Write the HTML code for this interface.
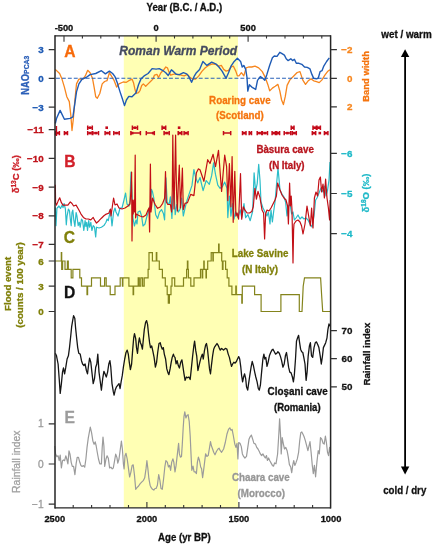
<!DOCTYPE html><html><head><meta charset="utf-8"><style>html,body{margin:0;padding:0;background:#fff;width:436px;height:550px;overflow:hidden}svg{display:block}text{font-family:"Liberation Sans",Arial,sans-serif;font-weight:bold;stroke-width:0.3px}</style></head><body>
<svg width="436" height="550" viewBox="0 0 436 550">
<rect x="123.8" y="35.8" width="114.2" height="472.09999999999997" fill="#FFFFB4"/>
<polyline points="55.3,69.4 59.6,73.5 62.0,79.1 64.4,87.1 66.8,96.7 69.3,101.6 70.9,116.0 72.0,130.5 73.3,119.2 74.9,100.0 76.5,83.9 78.9,79.1 82.9,79.1 85.3,75.9 87.7,70.3 90.1,72.7 92.5,78.3 94.1,87.1 95.7,96.7 97.3,98.3 99.8,93.5 102.2,83.9 104.6,81.5 107.0,80.7 109.4,72.7 111.8,76.7 114.2,80.7 116.6,87.1 119.0,83.9 123.2,82.0 126.4,82.3 128.8,80.7 132.0,79.1 133.6,83.1 134.8,88.7 136.1,93.5 138.5,92.7 140.1,90.3 141.7,85.5 143.3,83.9 145.7,86.3 148.1,83.9 150.5,81.5 152.9,79.1 154.5,75.1 156.9,74.3 158.5,77.5 160.9,72.7 163.3,70.3 165.8,67.0 167.4,67.8 169.0,71.9 170.6,75.1 173.0,74.3 175.4,73.9 177.8,74.6 181.0,75.1 184.2,75.9 187.4,74.3 189.2,76.7 192.4,79.1 195.6,79.1 198.8,75.9 202.1,71.1 205.3,67.8 208.5,65.4 212.5,63.8 216.5,64.6 218.9,66.2 221.3,65.4 223.7,69.4 226.1,71.1 228.5,70.3 231.0,67.0 233.4,66.2 235.8,71.1 237.4,75.9 239.0,75.9 241.4,72.7 243.8,75.9 246.2,67.8 248.6,67.0 251.8,67.0 255.0,66.1 258.7,67.9 262.3,71.6 265.1,77.1 267.8,84.4 269.7,90.9 272.4,88.1 275.2,86.3 277.9,84.4 279.8,90.9 281.6,100.0 283.4,104.6 285.3,96.4 287.1,85.4 289.9,79.9 293.5,76.2 297.2,72.5 300.0,71.6 302.7,79.9 305.5,84.4 308.2,80.8 311.0,78.9 313.7,80.8 316.5,81.7 319.2,82.6 322.0,79.9 324.7,75.3 327.5,71.6 329.9,69.8" fill="none" stroke="#F7861E" stroke-width="1.3" stroke-linejoin="round"/>
<line x1="55.0" y1="78.3" x2="330.6" y2="78.3" stroke="#2A62B8" stroke-width="1.1" stroke-dasharray="3.9,2.05" stroke-dashoffset="-0.95"/>
<polyline points="55.3,123.5 56.5,118.5 60.1,110.4 64.4,119.2 70.1,118.4 72.9,116.8 74.9,103.2 76.5,91.9 78.9,83.9 82.1,79.1 86.1,77.5 90.1,74.6 95.7,73.5 101.4,70.7 105.4,73.9 109.4,71.1 112.6,73.5 115.0,76.7 117.4,83.1 119.8,91.1 122.2,98.3 124.5,105.6 126.4,100.0 128.8,96.4 132.0,96.7 136.1,92.7 138.5,84.7 140.9,79.1 144.1,75.9 148.1,73.5 152.1,68.6 156.1,69.1 159.3,68.6 162.5,70.3 165.8,72.7 168.2,75.5 171.4,69.8 173.8,71.9 176.2,74.3 179.4,74.6 183.4,72.7 186.6,73.9 188.4,75.9 191.6,82.3 194.0,76.7 196.4,72.7 199.6,69.4 202.9,61.4 206.9,65.4 211.7,62.2 215.7,63.8 218.9,67.0 222.1,71.1 226.1,78.3 228.5,72.7 231.0,66.2 234.2,61.4 237.4,58.2 240.6,61.4 242.2,67.0 243.8,65.4 245.7,69.4 247.0,77.5 247.8,91.1 249.4,84.7 251.8,87.1 255.7,89.4 257.5,80.3 260.3,76.6 263.0,78.4 264.8,80.3 266.9,74.4 269.7,65.2 272.4,57.8 274.3,56.0 277.0,56.4 279.8,52.3 281.6,53.3 284.4,55.1 286.2,58.8 288.0,60.6 290.8,58.8 292.6,60.6 294.4,59.3 296.3,63.3 299.0,63.3 301.8,64.3 304.5,67.0 307.3,67.4 310.0,68.9 311.9,74.4 313.7,78.4 316.5,78.9 318.3,78.0 320.1,71.6 322.0,70.7 323.8,66.1 326.6,61.5 329.3,57.8" fill="none" stroke="#1F5BB5" stroke-width="1.4" stroke-linejoin="round"/>
<polyline points="55.3,207.6 56.0,225.6 56.9,208.4 58.9,206.0 60.5,208.4 62.2,205.1 63.0,207.6 64.1,203.5 65.4,209.2 66.3,224.8 67.1,215.8 68.4,209.2 69.5,210.9 70.3,219.0 71.2,225.6 72.0,212.5 72.8,210.1 73.9,220.7 74.9,226.4 76.1,212.5 76.9,215.8 78.2,225.6 79.3,222.3 80.2,227.2 81.5,219.0 82.6,220.7 83.8,230.5 85.1,220.7 85.9,226.4 86.7,222.3 87.5,230.5 88.7,220.7 89.6,227.2 90.8,222.3 91.9,230.5 93.2,225.6 94.5,227.2 95.7,237.0 96.5,227.2 99.0,228.0 101.4,227.2 103.9,225.6 106.0,222.3 107.1,219.0 108.3,220.7 109.6,214.1 110.4,209.2 112.0,226.0 113.6,212.0 115.0,208.0 116.0,212.0 118.0,216.0 120.0,208.0 122.0,208.0 124.0,200.0 125.6,193.0 127.0,204.0 129.0,206.0 130.0,200.0 131.0,172.0 132.0,192.0 133.0,218.0 134.4,226.0 136.0,220.0 137.0,224.0 138.0,212.0 140.0,211.0 141.6,216.0 143.0,226.0 145.0,224.0 147.0,216.0 148.4,212.0 150.0,206.0 150.5,206.0 151.4,189.3 152.5,191.8 153.8,198.2 155.7,214.7 157.6,218.5 159.5,212.2 161.5,209.6 163.4,213.4 164.6,219.8 165.9,177.8 167.2,202.0 169.1,204.5 170.4,196.9 171.9,218.5 172.9,198.2 173.9,189.3 175.2,214.7 176.7,204.5 178.2,212.2 179.9,209.6 181.6,198.2 183.3,216.0 185.0,208.3 186.9,200.7 189.4,193.1 192.0,185.4 193.9,169.5 195.8,177.8 197.7,182.9 200.0,177.5 203.1,190.6 206.2,180.5 209.3,184.4 211.6,175.9 213.6,162.8 215.5,174.4 217.8,185.2 220.1,188.3 222.4,186.7 224.7,182.1 227.0,188.3 227.8,217.6 229.4,196.0 230.9,216.1 232.5,203.7 234.0,219.2 235.5,211.5 237.9,217.6 240.2,209.9 241.7,217.6 244.0,203.7 245.6,217.6 247.9,214.6 250.2,220.7 252.6,211.5 254.1,172.8 255.6,191.4 257.2,183.6 258.7,164.3 260.0,180.5 261.0,202.0 263.0,208.0 265.0,212.0 267.0,216.0 268.4,212.0 270.0,224.0 271.0,210.0 272.4,222.0 273.6,212.0 275.0,202.0 276.4,186.0 278.0,168.0 280.0,190.0 282.0,194.0 284.0,197.0 285.6,202.0 287.0,216.0 288.4,206.0 290.0,204.0 291.6,214.0 293.0,212.0 294.4,220.0 296.0,218.0 298.0,215.0 300.0,219.0 302.0,217.0 304.0,219.0 306.0,218.0 308.0,220.0 310.0,224.0 312.0,227.0 314.0,216.0 315.6,200.0 317.0,198.0 319.0,193.0 321.0,188.0 323.0,192.0 324.4,186.0 326.0,196.0 327.6,190.0 329.0,180.0 330.0,162.0" fill="none" stroke="#2BBCC9" stroke-width="1.2" stroke-linejoin="round"/>
<polyline points="55.3,184.7 55.6,202.7 56.5,205.1 58.1,201.1 59.7,197.8 61.4,202.7 63.0,205.1 65.4,205.1 67.9,205.1 70.3,201.9 72.0,203.5 73.6,206.0 76.1,205.1 78.5,209.2 81.0,214.1 83.4,217.4 85.9,219.0 88.3,219.0 90.8,219.9 93.2,217.4 94.9,220.7 96.5,223.1 99.0,220.7 101.4,218.2 103.9,215.8 106.3,214.1 108.8,213.3 110.4,209.2 111.0,216.0 112.4,206.0 113.6,198.0 115.0,205.0 117.0,204.0 119.0,208.0 122.0,209.0 125.0,208.0 128.0,206.0 130.0,204.0 131.0,190.0 131.6,172.0 132.0,241.0 132.6,200.0 133.2,214.0 134.0,200.0 134.6,212.0 135.2,155.0 135.6,218.0 136.4,214.0 138.0,215.0 140.0,216.0 143.0,217.0 146.0,215.0 148.0,210.0 149.0,208.0 149.6,232.0 150.4,164.0 151.0,212.0 152.5,198.0 155.1,204.5 157.6,208.3 160.2,207.0 162.7,203.3 164.6,198.2 165.5,171.5 166.3,202.0 167.8,204.5 170.4,204.5 171.6,212.0 172.3,190.0 172.8,135.0 173.4,180.0 174.0,209.0 174.6,185.0 175.6,135.0 176.2,175.0 176.8,200.0 177.4,211.0 178.3,185.0 179.3,165.0 180.5,208.0 181.4,190.0 182.4,168.0 183.3,209.6 185.0,203.3 187.5,202.6 190.7,194.4 193.9,195.6 196.4,172.7 198.3,168.9 200.0,169.7 203.9,181.3 207.7,159.7 210.0,163.5 213.1,154.3 215.5,166.6 218.5,150.4 221.6,191.4 224.7,155.0 226.6,166.6 227.8,200.6 229.4,163.5 230.9,206.8 232.1,156.6 233.2,222.3 234.8,171.3 235.9,216.1 237.1,213.0 238.6,219.2 240.5,173.6 241.7,219.2 243.3,206.8 244.8,209.9 247.1,213.0 249.5,213.0 251.8,211.5 253.3,206.8 254.9,188.3 256.4,199.1 258.0,191.4 260.0,197.6 262.0,210.0 263.6,213.0 264.6,239.0 265.6,214.0 267.0,210.0 269.0,211.0 271.0,208.0 273.0,204.0 275.0,200.0 276.4,196.0 277.6,183.0 280.0,190.0 282.0,195.0 284.0,198.0 286.0,200.0 287.6,206.0 288.4,224.0 289.6,183.0 290.4,206.0 291.2,196.0 292.0,210.0 293.0,263.0 293.6,230.0 294.0,224.0 296.0,221.0 298.0,220.0 300.0,222.0 301.6,226.0 303.0,234.0 305.0,224.0 307.0,206.0 309.0,218.0 310.4,226.0 311.6,208.0 313.0,228.0 314.4,198.0 316.0,192.0 317.6,196.0 319.0,180.0 320.4,177.0 321.6,192.0 323.0,184.0 324.4,198.0 325.6,179.0 327.0,198.0 328.4,208.0 329.6,220.0 330.2,200.0" fill="none" stroke="#C20F16" stroke-width="1.2" stroke-linejoin="round"/>
<path d="M55.0,261.0H61.3V252.6H61.7V269.4H62.6V261.0H65.0V269.4H67.4V261.0H68.3V269.4H71.2V277.8H72.9V269.4H79.8V277.8H81.5V286.2H87.0V294.7H87.6V286.2H91.5V277.8H100.5V286.2H104.6V277.8H106.2V286.2H110.2V294.7H115.0V286.2H120.2V277.8H122.4V286.2H122.9V277.8H128.9V286.2H133.1V294.7H133.6V286.2H138.2V277.8H139.3V286.2H140.8V277.8H142.6V286.2H144.2V277.8H148.1V269.4H149.0V252.6H152.4V261.0H156.3V252.6H156.8V261.0H159.3V269.4H162.4V277.8H165.3V286.2H167.2V294.7H168.3V303.1H169.4V294.7H171.0V286.2H172.0V277.8H174.7V286.2H183.5V277.8H186.6V269.4H187.4V261.0H187.9V269.4H188.4V277.8H190.8V286.2H194.0V277.8H200.5V269.4H202.2V277.8H202.7V269.4H203.8V261.0H204.2V269.4H206.0V277.8H206.4V269.4H207.7V261.0H211.2V252.6H212.9V261.0H213.3V252.6H218.6V244.1H219.1V252.6H221.7V261.0H222.4V269.4H223.0V261.0H225.6V269.4H227.2V277.8H228.9V286.2H229.8V286.2H231.9V294.7H235.8V286.2H236.3V294.7H241.8V303.1H242.3V286.2H254.6V294.7H261.1V311.5H280.9V294.7H299.3V311.5H302.0L303.2,286.2L304.5,277.8H320.6L321.6,294.7L322.7,311.5H330.4" fill="none" stroke="#84841C" stroke-width="1.2"/>
<polyline points="55.3,353.3 56.5,355.8 58.1,364.0 59.2,378.7 60.2,393.4 61.4,383.6 62.5,372.1 63.5,368.0 64.6,373.8 65.8,367.2 67.1,359.0 68.4,355.8 69.5,347.6 70.7,336.2 71.7,326.3 72.8,319.8 73.6,315.7 74.8,318.2 75.6,328.0 76.6,337.8 77.7,347.6 78.8,353.3 80.2,354.1 81.5,360.7 82.6,364.0 83.9,365.6 85.1,364.0 86.4,370.5 87.5,373.8 88.7,364.0 89.6,358.2 90.8,362.3 91.9,372.1 93.2,383.6 94.5,378.7 95.7,367.2 96.8,364.0 97.8,354.1 99.0,372.1 100.1,380.3 101.4,390.1 102.7,378.7 103.9,371.3 105.0,373.8 106.3,377.0 107.6,372.1 108.8,364.0 109.9,360.7 110.8,367.2 112.0,383.6 113.3,391.7 114.1,395.0 115.2,390.1 116.5,386.8 117.8,385.2 119.0,383.6 120.1,388.5 121.1,381.9 122.3,375.4 123.4,367.2 124.7,359.0 126.0,352.5 127.2,350.1 128.3,354.1 129.3,362.3 130.4,369.7 131.6,364.0 132.6,350.9 133.7,337.8 134.5,333.7 135.7,338.6 136.5,347.6 137.5,353.3 138.6,342.7 139.4,337.8 140.4,342.7 141.4,345.1 142.4,349.2 143.4,338.6 144.3,329.6 145.6,322.3 146.6,320.6 147.6,324.7 148.6,334.5 149.6,342.7 150.5,347.6 151.7,346.0 152.8,350.9 154.1,357.4 155.4,367.2 156.6,362.3 157.7,352.5 159.0,343.5 160.2,342.7 161.3,346.8 162.3,349.2 163.3,347.6 164.3,354.1 165.6,359.0 166.8,368.9 168.0,372.9 168.9,374.6 170.1,368.9 171.2,362.3 172.2,357.4 173.4,354.1 174.2,356.6 175.0,357.4 176.1,363.9 177.1,360.7 178.3,365.6 179.4,368.0 180.7,362.3 181.9,359.9 182.8,365.6 184.0,373.8 185.1,380.3 186.4,377.0 187.6,377.8 188.9,377.0 190.2,379.5 191.3,368.9 192.5,357.4 193.8,346.0 194.6,341.1 195.8,350.9 196.7,355.8 197.9,370.5 198.7,367.2 199.8,362.3 201.1,357.4 202.3,354.1 203.3,359.0 204.4,350.9 205.6,345.1 206.5,343.5 207.5,349.2 208.5,359.0 209.5,368.9 210.5,373.8 211.4,365.6 212.6,355.8 213.7,349.2 214.7,346.8 215.9,345.1 217.0,343.5 218.0,345.1 219.1,347.6 220.3,350.1 221.6,348.4 223.6,350.1 225.3,348.4 226.9,349.2 228.2,354.1 229.4,357.4 230.5,362.3 231.5,366.4 232.6,364.0 233.8,362.3 235.1,363.1 236.4,361.5 237.5,359.0 238.7,356.6 239.7,359.0 240.8,367.2 241.6,375.4 242.6,381.9 243.6,377.0 244.6,373.8 245.7,378.7 246.5,386.8 247.7,390.1 248.6,383.6 249.8,375.4 251.1,367.2 252.2,361.5 253.4,365.6 254.7,372.1 255.8,377.0 257.1,381.9 258.3,388.5 259.3,390.1 260.4,385.2 261.6,372.1 262.9,359.0 263.9,354.1 264.8,359.0 265.8,357.4 267.0,366.4 268.1,362.3 269.4,355.8 270.7,352.5 271.9,350.1 273.0,349.2 274.3,351.7 275.6,354.1 276.8,353.3 277.9,351.7 279.3,353.3 280.5,356.6 281.6,360.7 282.9,367.2 284.2,364.0 285.4,355.8 286.5,352.5 287.5,359.0 288.6,367.2 289.8,372.1 291.1,372.9 292.4,377.0 293.4,381.9 294.3,375.4 295.5,359.0 296.5,341.1 297.6,337.8 298.6,335.3 299.6,342.7 300.6,349.2 301.7,351.7 302.8,352.5 303.8,357.4 305.0,364.0 306.1,380.3 307.1,372.1 308.2,355.8 309.4,346.0 310.4,342.7 311.5,355.8 312.7,357.4 314.0,347.6 315.3,342.7 316.4,341.9 317.6,344.3 318.9,347.6 320.2,355.8 321.3,364.0 322.5,355.8 323.4,347.6 324.6,345.1 325.7,342.7 327.0,337.8 327.9,329.6 329.0,323.9 330.0,326.3" fill="none" stroke="#151515" stroke-width="1.3" stroke-linejoin="round"/>
<polyline points="54.8,446.0 55.6,454.1 56.9,456.6 58.1,455.8 59.2,460.7 60.2,455.0 61.4,468.0 62.5,460.7 63.5,459.9 64.6,460.7 65.8,455.8 66.8,459.0 67.9,463.9 69.0,450.9 70.0,454.1 71.2,462.3 72.3,466.4 73.6,466.4 74.9,474.6 76.1,463.9 77.2,457.4 78.5,457.4 79.8,462.3 81.0,465.6 82.1,466.4 83.4,465.6 84.7,467.2 85.9,459.0 87.0,447.6 88.3,437.8 89.5,431.3 90.3,427.2 91.6,432.9 92.9,441.1 94.1,444.3 95.2,441.9 96.2,446.0 97.3,452.5 98.5,459.0 99.8,463.9 101.4,463.9 102.2,447.6 103.0,437.0 103.9,446.0 104.7,466.4 106.0,459.0 107.1,455.8 108.3,458.2 109.6,468.0 110.9,467.2 112.2,468.9 113.3,468.0 114.6,460.7 115.7,454.1 116.9,457.4 117.8,463.1 119.0,459.0 120.1,450.9 121.4,441.1 122.4,449.2 123.4,464.0 124.1,468.9 125.0,455.8 126.0,453.3 127.2,459.0 128.3,467.2 129.6,477.0 130.9,472.1 132.1,465.6 133.2,464.8 134.5,475.4 135.7,489.3 137.0,487.7 138.6,486.0 140.2,483.6 141.9,481.9 143.5,480.3 144.7,477.8 146.0,468.9 146.9,460.7 147.9,468.9 148.9,478.7 150.1,485.2 151.2,487.7 152.5,489.3 153.8,490.1 155.0,488.5 156.1,488.5 157.4,485.2 158.7,474.6 159.9,480.3 161.0,488.5 162.3,489.3 163.6,478.7 164.8,467.2 165.9,460.7 167.3,462.1 168.5,467.0 169.6,465.4 170.6,470.3 171.7,462.1 172.9,458.9 173.8,462.1 175.0,471.9 176.1,465.4 177.4,453.9 178.6,443.3 179.4,453.9 180.4,457.2 181.5,456.4 182.3,444.1 183.2,427.8 184.0,416.3 184.8,411.8 185.9,418.0 186.9,415.5 188.1,414.7 189.2,421.3 190.2,436.0 191.0,453.9 191.8,470.3 193.0,466.2 194.1,471.9 195.4,471.9 196.4,473.6 197.4,462.1 198.4,457.2 199.5,460.5 200.7,467.0 201.6,468.7 202.6,477.7 203.6,470.3 204.6,462.1 205.6,453.9 206.9,456.4 208.2,455.6 209.3,449.0 210.5,441.7 211.4,445.8 212.6,449.0 213.7,452.3 215.0,454.8 216.4,451.5 218.0,449.0 219.1,448.2 220.3,450.7 221.6,452.3 223.6,449.0 225.3,442.5 226.9,434.3 228.5,429.4 229.8,427.8 231.0,430.2 232.1,429.4 233.4,436.0 234.8,444.1 235.9,447.4 237.0,443.3 237.9,458.9 238.7,442.5 240.0,443.3 241.3,446.6 242.4,453.9 243.6,456.4 244.9,458.0 246.5,456.4 247.8,447.4 249.0,439.2 250.1,436.8 251.4,435.1 252.7,439.2 253.9,443.3 255.5,444.1 256.7,447.4 258.0,449.0 259.3,451.5 260.4,453.9 261.6,455.6 262.9,453.9 264.2,456.4 265.3,458.0 266.5,455.6 267.4,460.5 268.6,458.0 269.7,460.5 271.0,462.9 272.4,465.4 273.5,466.2 274.6,462.9 276.0,463.8 277.6,454.0 278.9,432.7 279.6,418.8 280.6,436.0 281.2,454.0 282.2,437.6 283.4,444.1 284.5,449.0 285.8,447.4 287.1,450.7 288.3,457.2 289.4,464.6 290.7,467.0 291.7,472.7 292.7,465.4 293.7,460.5 294.8,465.4 295.9,462.9 297.3,458.9 298.6,452.3 299.7,440.9 300.8,432.7 301.8,431.9 303.0,434.3 304.1,436.8 305.4,440.9 306.7,445.8 307.9,450.7 309.0,445.8 310.0,441.7 311.1,452.3 312.3,465.4 313.3,473.6 314.4,465.4 315.6,476.8 316.9,462.1 318.2,450.7 319.3,453.9 320.5,437.6 321.8,439.2 323.1,443.3 324.2,444.1 325.4,436.0 326.4,442.5 327.5,452.3 328.6,455.6 329.6,447.4 330.3,452.3" fill="none" stroke="#9B9B9B" stroke-width="1.2" stroke-linejoin="round"/>
<path d="M55.3,133.1H59.7M55.6,130.9V135.3M59.4,130.9V135.3M64.1,133.1H67.8M64.4,130.9V135.3M67.5,130.9V135.3M87.4,133.1H92.5M87.7,130.9V135.3M92.2,130.9V135.3M92.5,133.1H98.8M92.8,130.9V135.3M98.5,130.9V135.3M104.8,133.1H110.0M105.1,130.9V135.3M109.7,130.9V135.3M113.5,133.1H119.5M113.8,130.9V135.3M119.2,130.9V135.3M130.6,133.1H140.7M130.9,130.9V135.3M140.4,130.9V135.3M146.0,133.1H154.6M146.3,130.9V135.3M154.3,130.9V135.3M163.8,133.1H169.5M164.1,130.9V135.3M169.2,130.9V135.3M177.9,133.1H182.1M178.2,130.9V135.3M181.8,130.9V135.3M183.8,133.1H188.4M184.1,130.9V135.3M188.1,130.9V135.3M223.2,133.1H231.0M223.5,130.9V135.3M230.7,130.9V135.3M242.2,133.1H246.3M242.5,130.9V135.3M246.0,130.9V135.3M248.9,133.1H251.8M249.2,130.9V135.3M251.5,130.9V135.3M256.9,133.1H262.1M257.2,130.9V135.3M261.8,130.9V135.3M262.1,133.1H267.8M262.4,130.9V135.3M267.5,130.9V135.3M271.8,133.1H275.8M272.1,130.9V135.3M275.5,130.9V135.3M276.4,133.1H279.9M276.7,130.9V135.3M279.6,130.9V135.3M283.9,133.1H290.9M284.2,130.9V135.3M290.6,130.9V135.3M292.0,133.1H296.6M292.3,130.9V135.3M296.3,130.9V135.3M312.0,133.1H316.0M312.3,130.9V135.3M315.7,130.9V135.3M324.1,133.1H328.2M324.4,130.9V135.3M327.9,130.9V135.3M87.4,127.7H92.6M87.7,125.5V129.9M92.3,125.5V129.9M132.1,127.7H137.8M132.4,125.5V129.9M137.5,125.5V129.9M161.8,127.7H166.0M162.1,125.5V129.9M165.7,125.5V129.9M290.9,127.7H294.3M291.2,125.5V129.9M294.0,125.5V129.9M312.7,127.7H316.7M313.0,125.5V129.9M316.4,125.5V129.9M316.7,127.7H320.7M317.0,125.5V129.9M320.4,125.5V129.9" stroke="#C40A1A" stroke-width="1.5" fill="none"/>
<path d="M56.4,126.0V136.0" stroke="#C40A1A" stroke-width="1.5"/>
<rect x="105.4" y="126.4" width="2.6" height="2.6" fill="#C40A1A"/>
<rect x="177.8" y="126.4" width="2.6" height="2.6" fill="#C40A1A"/>
<rect x="130.9" y="131.8" width="2.6" height="2.6" fill="#C40A1A"/>
<rect x="151.9" y="131.8" width="2.6" height="2.6" fill="#C40A1A"/>
<rect x="318.5" y="131.8" width="2.6" height="2.6" fill="#C40A1A"/>
<rect x="56.2" y="131.8" width="2.6" height="2.6" fill="#C40A1A"/>
<rect x="64.6" y="131.8" width="2.6" height="2.6" fill="#C40A1A"/>
<rect x="88.7" y="131.8" width="2.6" height="2.6" fill="#C40A1A"/>
<rect x="94.4" y="131.8" width="2.6" height="2.6" fill="#C40A1A"/>
<rect x="106.1" y="131.8" width="2.6" height="2.6" fill="#C40A1A"/>
<rect x="115.2" y="131.8" width="2.6" height="2.6" fill="#C40A1A"/>
<rect x="165.3" y="131.8" width="2.6" height="2.6" fill="#C40A1A"/>
<rect x="178.7" y="131.8" width="2.6" height="2.6" fill="#C40A1A"/>
<rect x="184.8" y="131.8" width="2.6" height="2.6" fill="#C40A1A"/>
<rect x="242.9" y="131.8" width="2.6" height="2.6" fill="#C40A1A"/>
<rect x="249.1" y="131.8" width="2.6" height="2.6" fill="#C40A1A"/>
<rect x="258.2" y="131.8" width="2.6" height="2.6" fill="#C40A1A"/>
<rect x="263.7" y="131.8" width="2.6" height="2.6" fill="#C40A1A"/>
<rect x="272.5" y="131.8" width="2.6" height="2.6" fill="#C40A1A"/>
<rect x="276.8" y="131.8" width="2.6" height="2.6" fill="#C40A1A"/>
<rect x="286.1" y="131.8" width="2.6" height="2.6" fill="#C40A1A"/>
<rect x="293.0" y="131.8" width="2.6" height="2.6" fill="#C40A1A"/>
<rect x="312.7" y="131.8" width="2.6" height="2.6" fill="#C40A1A"/>
<rect x="324.8" y="131.8" width="2.6" height="2.6" fill="#C40A1A"/>
<rect x="88.7" y="126.4" width="2.6" height="2.6" fill="#C40A1A"/>
<rect x="133.6" y="126.4" width="2.6" height="2.6" fill="#C40A1A"/>
<rect x="162.6" y="126.4" width="2.6" height="2.6" fill="#C40A1A"/>
<rect x="291.3" y="126.4" width="2.6" height="2.6" fill="#C40A1A"/>
<rect x="313.4" y="126.4" width="2.6" height="2.6" fill="#C40A1A"/>
<rect x="317.4" y="126.4" width="2.6" height="2.6" fill="#C40A1A"/>
<path d="M54.7,35.8H330.90000000000003M54.7,507.9H330.90000000000003" fill="none" stroke="#262626" stroke-width="1.2"/>
<path d="M55.0,35.3V508.5M330.6,35.3V508.5" fill="none" stroke="#262626" stroke-width="1.5"/>
<path d="M64.0,35.8v6M82.4,35.8v2.8M100.8,35.8v2.8M119.2,35.8v2.8M137.7,35.8v2.8M156.1,35.8v6M174.5,35.8v2.8M192.9,35.8v2.8M211.3,35.8v2.8M229.7,35.8v2.8M248.1,35.8v6M266.5,35.8v2.8M285.0,35.8v2.8M303.4,35.8v2.8M321.8,35.8v2.8M73.2,507.9v-2.8M91.6,507.9v-2.8M110.0,507.9v-2.8M128.5,507.9v-2.8M146.9,507.9v-6M165.3,507.9v-2.8M183.7,507.9v-2.8M202.1,507.9v-2.8M220.5,507.9v-2.8M238.9,507.9v-6M257.3,507.9v-2.8M275.8,507.9v-2.8M294.2,507.9v-2.8M312.6,507.9v-2.8" stroke="#333" stroke-width="1.1"/>
<path d="M48.7,49.6H55.0M48.7,78.4H55.0M48.7,107.2H55.0M48.7,129.6H55.0M48.7,158.4H55.0M48.7,187.1H55.0M48.7,215.8H55.0M48.7,244.4H55.0M48.7,261.0H55.0M48.7,286.2H55.0M48.7,311.5H55.0M48.7,423.8H55.0M48.7,464.0H55.0M48.7,504.2H55.0" stroke="#333" stroke-width="1.2"/>
<text x="43.7" y="53.1" font-size="9.8" fill="#1F5BB5" text-anchor="end" stroke="#1F5BB5">3</text>
<text x="43.7" y="81.9" font-size="9.8" fill="#1F5BB5" text-anchor="end" stroke="#1F5BB5">0</text>
<text x="43.7" y="110.7" font-size="9.8" fill="#1F5BB5" text-anchor="end" stroke="#1F5BB5">−3</text>
<text x="43.7" y="133.1" font-size="9.8" fill="#C0141C" text-anchor="end" stroke="#C0141C">−11</text>
<text x="43.7" y="161.9" font-size="9.8" fill="#C0141C" text-anchor="end" stroke="#C0141C">−10</text>
<text x="43.7" y="190.6" font-size="9.8" fill="#C0141C" text-anchor="end" stroke="#C0141C">−9</text>
<text x="43.7" y="219.3" font-size="9.8" fill="#C0141C" text-anchor="end" stroke="#C0141C">−8</text>
<text x="43.7" y="247.9" font-size="9.8" fill="#C0141C" text-anchor="end" stroke="#C0141C">−7</text>
<text x="43.7" y="264.5" font-size="9.8" fill="#80800A" text-anchor="end" stroke="#80800A">6</text>
<text x="43.7" y="289.7" font-size="9.8" fill="#80800A" text-anchor="end" stroke="#80800A">3</text>
<text x="43.7" y="315.0" font-size="9.8" fill="#80800A" text-anchor="end" stroke="#80800A">0</text>
<text x="43.7" y="427.3" style="font-weight:normal" font-size="10.2" fill="#9B9B9B" text-anchor="end" stroke="#9B9B9B">1</text>
<text x="43.7" y="467.5" style="font-weight:normal" font-size="10.2" fill="#9B9B9B" text-anchor="end" stroke="#9B9B9B">0</text>
<text x="43.7" y="507.7" style="font-weight:normal" font-size="10.2" fill="#9B9B9B" text-anchor="end" stroke="#9B9B9B">−1</text>
<path d="M330.6,49.6H336.9M330.6,78.3H336.9M330.6,106.8H336.9M330.6,153.3H336.9M330.6,193.5H336.9M330.6,233.7H336.9M330.6,330.6H336.9M330.6,358.7H336.9M330.6,386.8H336.9" stroke="#333" stroke-width="1.2"/>
<text x="352.4" y="53.0" font-size="9.8" fill="#F7861E" text-anchor="end" stroke="#F7861E">−2</text>
<text x="352.4" y="81.7" font-size="9.8" fill="#F7861E" text-anchor="end" stroke="#F7861E">0</text>
<text x="352.4" y="110.2" font-size="9.8" fill="#F7861E" text-anchor="end" stroke="#F7861E">2</text>
<text x="352.4" y="156.7" font-size="9.8" fill="#1EB9C8" text-anchor="end" stroke="#1EB9C8">−6</text>
<text x="352.4" y="196.9" font-size="9.8" fill="#1EB9C8" text-anchor="end" stroke="#1EB9C8">−5</text>
<text x="352.4" y="237.1" font-size="9.8" fill="#1EB9C8" text-anchor="end" stroke="#1EB9C8">−4</text>
<text x="352.4" y="334.0" font-size="9.8" fill="#151515" text-anchor="end" stroke="#151515">70</text>
<text x="352.4" y="362.1" font-size="9.8" fill="#151515" text-anchor="end" stroke="#151515">60</text>
<text x="352.4" y="390.2" font-size="9.8" fill="#151515" text-anchor="end" stroke="#151515">50</text>
<text x="64.0" y="30.7" font-size="9.3" fill="#111" text-anchor="middle" stroke="#111">-500</text>
<text x="156.1" y="30.7" font-size="9.3" fill="#111" text-anchor="middle" stroke="#111">0</text>
<text x="248.1" y="30.7" font-size="9.3" fill="#111" text-anchor="middle" stroke="#111">500</text>
<text x="54.8" y="521.7" font-size="9.3" fill="#111" text-anchor="middle" stroke="#111">2500</text>
<text x="146.9" y="521.7" font-size="9.3" fill="#111" text-anchor="middle" stroke="#111">2000</text>
<text x="238.9" y="521.7" font-size="9.3" fill="#111" text-anchor="middle" stroke="#111">1500</text>
<text x="331.0" y="521.7" font-size="9.3" fill="#111" text-anchor="middle" stroke="#111">1000</text>
<text x="64.2" y="56.7" font-size="15.6" fill="#F76A0A" stroke="#F76A0A">A</text>
<text x="64.2" y="166.8" font-size="15.6" fill="#D2202A" stroke="#D2202A">B</text>
<text x="63.8" y="242.9" font-size="15.6" fill="#80800A" stroke="#80800A">C</text>
<text x="64.0" y="297.6" font-size="15.6" fill="#111" stroke="#111">D</text>
<text x="64.6" y="422.9" font-size="15.6" fill="#9B9B9B" stroke="#9B9B9B">E</text>
<text x="119.3" y="54.8" font-size="12" font-style="italic" fill="#454B60" stroke="#454B60">Roman Warm Period</text>
<text x="209.10" y="103.7" font-size="11" fill="#F5750F" textLength="61.50" lengthAdjust="spacingAndGlyphs"  stroke="#F5750F">Roaring cave</text>
<text x="216.00" y="119.4" font-size="11" fill="#F5750F" textLength="47.79" lengthAdjust="spacingAndGlyphs"  stroke="#F5750F">(Scotland)</text>
<text x="256.40" y="152.8" font-size="10.5" fill="#B8151E" textLength="57.48" lengthAdjust="spacingAndGlyphs"  stroke="#B8151E">Bàsura cave</text>
<text x="268.90" y="168.9" font-size="10.5" fill="#B8151E" textLength="35.72" lengthAdjust="spacingAndGlyphs"  stroke="#B8151E">(N Italy)</text>
<text x="231.70" y="256.8" font-size="11" fill="#80800A" textLength="56.71" lengthAdjust="spacingAndGlyphs"  stroke="#80800A">Lake Savine</text>
<text x="241.90" y="273.1" font-size="11" fill="#80800A" textLength="36.12" lengthAdjust="spacingAndGlyphs"  stroke="#80800A">(N Italy)</text>
<text x="267.60" y="395.2" font-size="10.8" fill="#111" textLength="60.19" lengthAdjust="spacingAndGlyphs"  stroke="#111">Cloşani cave</text>
<text x="274.00" y="410.8" font-size="10.8" fill="#111" textLength="46.59" lengthAdjust="spacingAndGlyphs"  stroke="#111">(Romania)</text>
<text x="232.00" y="480.6" font-size="10.8" fill="#979797" textLength="57.78" lengthAdjust="spacingAndGlyphs"  stroke="#979797">Chaara cave</text>
<text x="237.60" y="496.7" font-size="10.8" fill="#979797" textLength="47.38" lengthAdjust="spacingAndGlyphs"  stroke="#979797">(Morocco)</text>
<text x="381.25" y="38.1" font-size="10.6" fill="#111" textLength="50.43" lengthAdjust="spacingAndGlyphs"  stroke="#111">wet / warm</text>
<text x="383.20" y="494.0" font-size="10.7" fill="#111" textLength="43.10" lengthAdjust="spacingAndGlyphs"  stroke="#111">cold / dry</text>
<text x="146.60" y="11.4" font-size="10.4" fill="#111" textLength="75.59" lengthAdjust="spacingAndGlyphs"  stroke="#111">Year (B.C. / A.D.)</text>
<text x="158.00" y="541.2" font-size="10.4" fill="#111" textLength="52.70" lengthAdjust="spacingAndGlyphs"  stroke="#111">Age (yr BP)</text>
<text transform="translate(28.6,94.8) rotate(-90)" font-size="10.4" fill="#2B5FB8" textLength="20.8" lengthAdjust="spacingAndGlyphs" stroke="#2B5FB8">NAO</text>
<text transform="translate(29.3,73.9) rotate(-90)" font-size="7" fill="#2B5FB8" textLength="18.2" lengthAdjust="spacingAndGlyphs" stroke="#2B5FB8">PCA3</text>
<text transform="translate(19.4,174.2) rotate(-90)" font-size="9.5" fill="#CC1F27" text-anchor="middle"  stroke="#CC1F27">δ<tspan font-size="6.5" dy="-3">13</tspan><tspan dy="3">C (‰)</tspan></text>
<text transform="translate(11.4,283.9) rotate(-90)" font-size="9.8" fill="#80800A" text-anchor="middle" textLength="54" lengthAdjust="spacingAndGlyphs" stroke="#80800A">Flood event</text>
<text transform="translate(22.6,285.0) rotate(-90)" font-size="9.8" fill="#80800A" text-anchor="middle" textLength="85.5" lengthAdjust="spacingAndGlyphs" stroke="#80800A">(counts / 100 year)</text>
<text transform="translate(20.4,461.7) rotate(-90)" font-size="10.4" fill="#A0A0A0" text-anchor="middle" style="font-weight:normal" stroke="#A0A0A0">Rainfall index</text>
<text transform="translate(369.4,76.4) rotate(-90)" font-size="9.4" fill="#F5750F" text-anchor="middle"  stroke="#F5750F">Band width</text>
<text transform="translate(369.3,193.0) rotate(-90)" font-size="9.5" fill="#1EB9C8" text-anchor="middle"  stroke="#1EB9C8">δ<tspan font-size="6.5" dy="-3">18</tspan><tspan dy="3">O (‰)</tspan></text>
<text transform="translate(369.5,354.1) rotate(-90)" font-size="9.7" fill="#111" text-anchor="middle"  stroke="#111">Rainfall index</text>
<line x1="405.1" y1="55" x2="405.1" y2="468" stroke="#000" stroke-width="1.8"/>
<path d="M405.1,49.3L400.9,57.0H409.3Z" fill="#000"/>
<path d="M405.1,474.4L400.9,466.6H409.3Z" fill="#000"/>
</svg></body></html>
